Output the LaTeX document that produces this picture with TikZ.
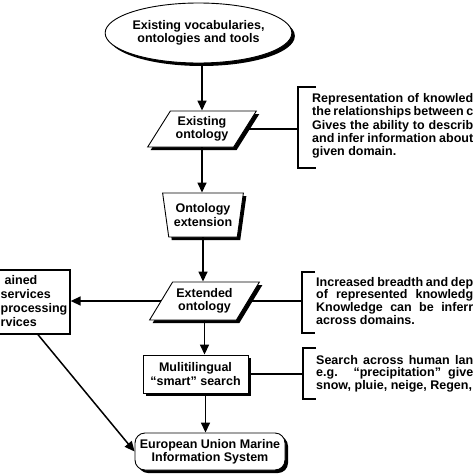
\documentclass[tikz,border=0pt]{standalone}
\usepackage{fontspec}
\setmainfont{Liberation Sans}
\usetikzlibrary{shapes.geometric,shadows,arrows.meta,calc}
\begin{document}
\begin{tikzpicture}[x=1pt,y=-1pt,
  font=\fontsize{12.5}{13.4}\selectfont\bfseries,
  shad/.style={drop shadow={shadow xshift=3pt,shadow yshift=-3pt,fill=black,opacity=1}},
  box/.style={draw,line width=0.9pt,fill=white,shad,align=center,inner sep=0pt},
  para/.style={box,trapezium,trapezium stretches=true},
  conn/.style={line width=1.5pt},
  arr/.style={conn,-{Triangle[length=10pt,width=9pt]}},
  brk/.style={line width=2.4pt,line join=miter},
  note/.style={anchor=north west,align=left,inner sep=0pt}]
\useasboundingbox (0,0) rectangle (474,474);

% shapes
\node[box,ellipse,minimum width=139pt,minimum height=60pt] (src) at (198.5,33)
  {Existing vocabularies,\\ontologies and tools};
\node[para,trapezium left angle=53,trapezium right angle=127,
  minimum width=109pt,minimum height=36pt] (eo) at (202,129) {Existing\\ontology};
\node[para,trapezium left angle=103,trapezium right angle=103,
  minimum width=81pt,minimum height=44pt] (ext) at (203,215) {Ontology\\extension};
\node[para,trapezium left angle=51,trapezium right angle=129,
  minimum width=110pt,minimum height=38pt] (exto) at (204.5,301) {Extended\\ontology};
\node[box,rectangle,minimum width=105pt,minimum height=38pt,
  font=\fontsize{12.5}{14}\selectfont\bfseries] (mult) at (195.5,374)
  {Mulitilingual\\“smart” search};
\node[box,rectangle,rounded corners=10pt,minimum width=150pt,minimum height=37pt] (eu)
  at (210,451.5) {European Union Marine\\Information System};
\node[draw,line width=1.3pt,fill=white,minimum width=80pt,minimum height=64pt,inner sep=0pt]
  (svc) at (30,302) {};
\node[anchor=west,align=left,inner sep=0pt,font=\fontsize{12.5}{14}\selectfont\bfseries]
  (svct) at (0.5,301) {\hspace*{4pt}ained\\services\\processing\\rvices};

% brackets
\coordinate (b1) at (298,128);
\coordinate (b2) at (302,303);
\coordinate (b3) at (303,373);
\draw[brk] ($(b1)+(18,-41)$) -- ($(b1)+(0,-41)$) -- ($(b1)+(0,40)$) -- ($(b1)+(18,40)$);
\draw[brk] ($(b2)+(13,-31)$) -- ($(b2)+(0,-31)$) -- ($(b2)+(0,30)$) -- ($(b2)+(13,30)$);
\draw[brk] ($(b3)+(13,-25)$) -- ($(b3)+(0,-25)$) -- ($(b3)+(0,26)$) -- ($(b3)+(13,26)$);

\node[note] (n1) at (312,93) {\makebox[161pt][s]{Representation of knowled}\\
  \makebox[161pt][s]{the relationships between c}\\
  \makebox[161pt][s]{Gives the ability to describ}\\
  \makebox[161pt][s]{and infer information about}\\
  given domain.};
\node[note,font=\fontsize{12.5}{12.7}\selectfont\bfseries] (n2) at (316,277)
  {\makebox[157pt][s]{Increased breadth and dep}\\
  \makebox[157pt][s]{of represented knowledg}\\
  \makebox[157pt][s]{Knowledge can be inferr}\\
  across domains.};
\node[note,font=\fontsize{12.5}{11.6}\selectfont\bfseries] (n3) at (316,355.5)
  {\makebox[157pt][s]{Search across human lan}\\
  \makebox[157pt][s]{e.g. “precipitation” give}\\
  snow, pluie, neige, Regen,};

% connectors
\draw[arr] (src.south -| eo.north) -- (eo.north);
\draw[arr] (eo.south) -- (eo.south |- ext.north);
\draw[arr] (ext.south) -- (ext.south |- exto.north);
\draw[arr] (exto.south) -- (exto.south |- mult.north);
\draw[arr] ([xshift=10pt]mult.south) -- ([xshift=10pt]mult.south |- eu.north);
\draw[arr] (exto.west) -- (exto.west -| svc.east);
\draw[arr] ([xshift=8pt]svc.south) -- (eu.west);
\draw[conn] (eo.east) -- (eo.east -| b1);
\draw[conn] (exto.east) -- (exto.east -| b2);
\draw[conn] (mult.east) -- (mult.east -| b3);
\end{tikzpicture}
\end{document}
